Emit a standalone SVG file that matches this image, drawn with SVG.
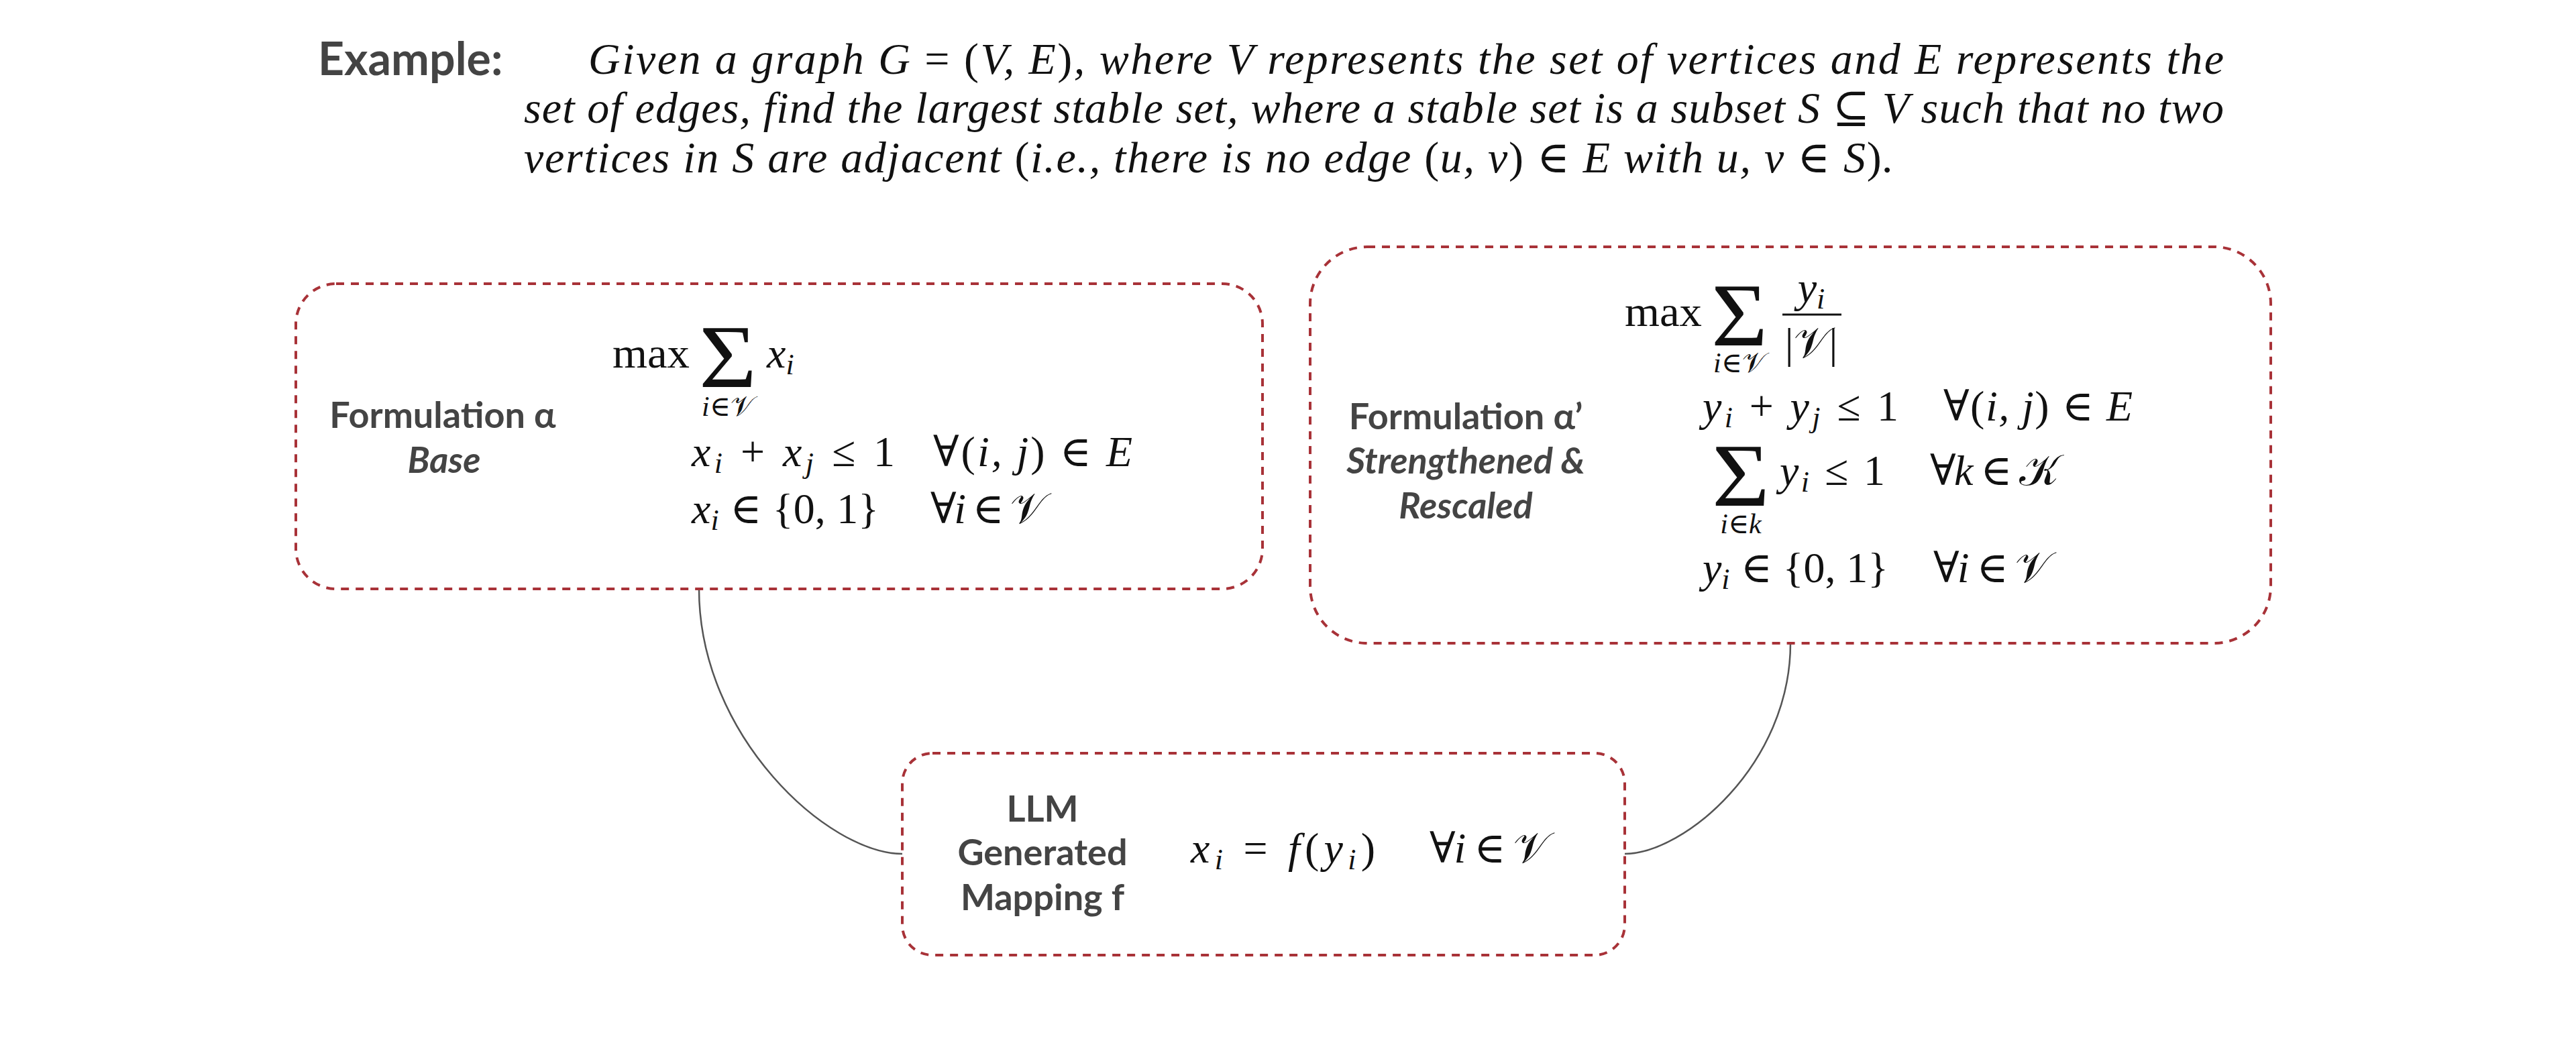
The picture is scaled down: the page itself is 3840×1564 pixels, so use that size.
<svg xmlns="http://www.w3.org/2000/svg" width="3840" height="1564" viewBox="0 0 3840 1564">
<style>
.bg{fill:#ffffff}
.box{fill:none;stroke:#a83238;stroke-width:4;stroke-dasharray:12 10}
.conn{fill:none;stroke:#555555;stroke-width:2.5}
.lab{font-family:Lato,"Open Sans","Liberation Sans",sans-serif;font-weight:700;font-size:54px;fill:#444444;text-anchor:middle}
.it{font-style:italic}
.hd{font-family:Lato,"Open Sans","Liberation Sans",sans-serif;font-weight:700;font-size:68px;fill:#444444}
.p{font-family:"Liberation Serif","DejaVu Serif",serif;font-style:italic;font-size:66px;fill:#111111}
.u{font-style:normal}
.m{font-family:"Liberation Serif","DejaVu Serif",serif;font-size:64px;fill:#111111}
.i{font-style:italic}
.s{font-size:44px;font-style:italic}
.sub{font-family:"Liberation Serif","DejaVu Serif",serif;font-size:42px;font-style:italic;fill:#111111;text-anchor:middle}
.sig{font-family:"Liberation Serif","DejaVu Serif",serif;font-size:134px;fill:#111111;text-anchor:middle}
.cal{font-family:"DejaVu Sans","DejaVu Serif","Noto Sans",serif;font-style:normal}
</style>
<rect class="bg" x="0" y="0" width="3840" height="1564"/>
<g id="problem">
<text class="hd" x="474" y="112">Example:</text>
<text class="p" x="877" y="110" textLength="2438" lengthAdjust="spacing">Given a graph G <tspan class="u">=</tspan> <tspan class="u">(</tspan>V, E<tspan class="u">)</tspan>, where V represents the set of vertices and E represents the</text>
<text class="p" x="781" y="183" textLength="2534" lengthAdjust="spacing">set of edges, find the largest stable set, where a stable set is a subset S <tspan class="u">⊆</tspan> V such that no two</text>
<text class="p" x="781" y="257" textLength="2042" lengthAdjust="spacing">vertices in S are adjacent <tspan class="u">(</tspan>i.e., there is no edge <tspan class="u">(</tspan>u, v<tspan class="u">) ∈</tspan> E with u, v <tspan class="u">∈</tspan> S<tspan class="u">)</tspan>.</text>
</g>
<g id="connectors">
<path class="conn" d="M1042,878 C1042,1098 1235,1273 1345,1273"/>
<path class="conn" d="M2669,959 C2669,1140 2510,1273 2422,1273"/>
</g>
<g id="formulation-base">
<rect class="box" x="441" y="423" width="1441" height="455" rx="60"/>
<text class="lab" x="660" y="638">Formulation α</text>
<text class="lab it" x="662" y="705">Base</text>
<text class="m" x="913" y="548" textLength="115" lengthAdjust="spacingAndGlyphs">max</text>
<text class="sig" x="1085" y="577" textLength="86" lengthAdjust="spacingAndGlyphs">Σ</text>
<text class="sub" x="1085" y="620">i∈<tspan class="cal">𝒱</tspan></text>
<text class="m" x="1143" y="548"><tspan class="i">x</tspan><tspan class="s" dy="10">i</tspan></text>
<text class="m" x="1031" y="695" textLength="303" lengthAdjust="spacing"><tspan class="i">x</tspan><tspan class="s" dy="10">i</tspan><tspan dy="-10"> + </tspan><tspan class="i">x</tspan><tspan class="s" dy="10">j</tspan><tspan dy="-10"> ≤ 1</tspan></text>
<text class="m" x="1391" y="695" textLength="297" lengthAdjust="spacing">∀(<tspan class="i">i, j</tspan>) ∈ <tspan class="i">E</tspan></text>
<text class="m" x="1031" y="780" textLength="279" lengthAdjust="spacing"><tspan class="i">x</tspan><tspan class="s" dy="10">i</tspan><tspan dy="-10"> ∈ {0, 1}</tspan></text>
<text class="m" x="1387" y="780" textLength="172" lengthAdjust="spacing">∀<tspan class="i">i</tspan> ∈ <tspan class="cal">𝒱</tspan></text>
</g>
<g id="formulation-strengthened">
<rect class="box" x="1953" y="368" width="1432" height="591" rx="85"/>
<text class="lab" x="2185" y="640">Formulation α’</text>
<text class="lab it" x="2185" y="706">Strengthened &amp;</text>
<text class="lab it" x="2185" y="773">Rescaled</text>
<text class="m" x="2422" y="486" textLength="115" lengthAdjust="spacingAndGlyphs">max</text>
<text class="sig" x="2593" y="515" textLength="84" lengthAdjust="spacingAndGlyphs">Σ</text>
<text class="sub" x="2593" y="555">i∈<tspan class="cal">𝒱</tspan></text>
<text class="m" x="2700" y="450" text-anchor="middle"><tspan class="i">y</tspan><tspan class="s" dy="10">i</tspan></text>
<line x1="2657" y1="469" x2="2745" y2="469" stroke="#111111" stroke-width="3"/>
<text class="m" x="2700" y="533" text-anchor="middle">|<tspan class="cal">𝒱</tspan>|</text>
<text class="m" x="2538" y="627" textLength="292" lengthAdjust="spacing"><tspan class="i">y</tspan><tspan class="s" dy="10">i</tspan><tspan dy="-10"> + </tspan><tspan class="i">y</tspan><tspan class="s" dy="10">j</tspan><tspan dy="-10"> ≤ 1</tspan></text>
<text class="m" x="2897" y="627" textLength="282" lengthAdjust="spacing">∀(<tspan class="i">i, j</tspan>) ∈ <tspan class="i">E</tspan></text>
<text class="sig" x="2595" y="754" textLength="86" lengthAdjust="spacingAndGlyphs">Σ</text>
<text class="sub" x="2595" y="795">i∈k</text>
<text class="m" x="2653" y="723" textLength="157" lengthAdjust="spacing"><tspan class="i">y</tspan><tspan class="s" dy="10">i</tspan><tspan dy="-10"> ≤ 1</tspan></text>
<text class="m" x="2877" y="723" textLength="192" lengthAdjust="spacing">∀<tspan class="i">k</tspan> ∈ <tspan class="cal">𝒦</tspan></text>
<text class="m" x="2538" y="868" textLength="277" lengthAdjust="spacing"><tspan class="i">y</tspan><tspan class="s" dy="10">i</tspan><tspan dy="-10"> ∈ {0, 1}</tspan></text>
<text class="m" x="2882" y="868" textLength="175" lengthAdjust="spacing">∀<tspan class="i">i</tspan> ∈ <tspan class="cal">𝒱</tspan></text>
</g>
<g id="llm-mapping">
<rect class="box" x="1345" y="1123" width="1077" height="301" rx="45"/>
<text class="lab" x="1554" y="1225">LLM</text>
<text class="lab" x="1554" y="1290">Generated</text>
<text class="lab" x="1554" y="1357">Mapping f</text>
<text class="m" x="1775" y="1286" textLength="275" lengthAdjust="spacing"><tspan class="i">x</tspan><tspan class="s" dy="10">i</tspan><tspan dy="-10"> = </tspan><tspan class="i">f</tspan>(<tspan class="i">y</tspan><tspan class="s" dy="10">i</tspan><tspan dy="-10">)</tspan></text>
<text class="m" x="2131" y="1286" textLength="178" lengthAdjust="spacing">∀<tspan class="i">i</tspan> ∈ <tspan class="cal">𝒱</tspan></text>
</g>
</svg>
